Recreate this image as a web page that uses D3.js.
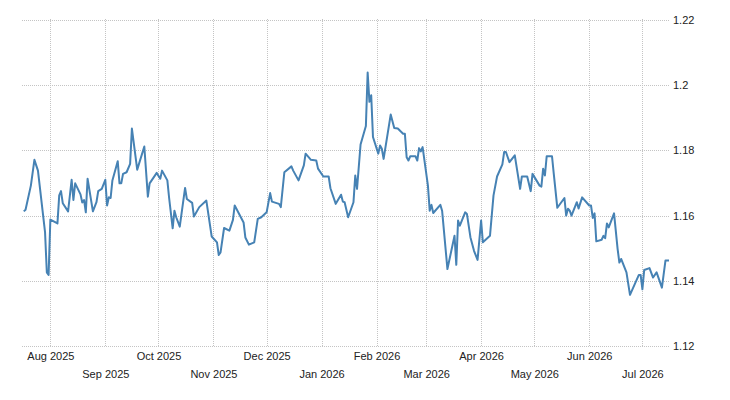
<!DOCTYPE html>
<html>
<head>
<meta charset="utf-8">
<script src="https://cdn.jsdelivr.net/npm/d3@7"></script>
<style>
  html, body { margin: 0; padding: 0; background: #fff; }
  svg { display: block; font-family: Arial, "Liberation Sans", sans-serif; }
  .grid line { stroke: #c4c4c4; stroke-width: 1; stroke-dasharray: 1,1; shape-rendering: crispEdges; }
  .grid path { display: none; }
  .axis text { fill: #222; font-size: 11px; }
  .axis path, .axis line { display: none; }
  .rate { fill: none; stroke: #4682b4; stroke-width: 2; stroke-linejoin: round; }
</style>
</head>
<body>
<div id="chart"></div>
<script>
// vertices of the line
const dates = [
  "2025-07-17","2025-07-18","2025-07-21","2025-07-23","2025-07-25","2025-07-29","2025-07-30","2025-07-31",
  "2025-08-01","2025-08-05","2025-08-06","2025-08-07","2025-08-08","2025-08-11","2025-08-13","2025-08-14",
  "2025-08-15","2025-08-18","2025-08-19","2025-08-20","2025-08-21","2025-08-22","2025-08-25","2025-08-27",
  "2025-08-28","2025-08-30","2025-09-01","2025-09-02","2025-09-03","2025-09-04","2025-09-05","2025-09-08",
  "2025-09-09","2025-09-10","2025-09-11","2025-09-13","2025-09-15","2025-09-16","2025-09-19","2025-09-23",
  "2025-09-25","2025-09-26","2025-09-30","2025-10-02","2025-10-03","2025-10-06","2025-10-07","2025-10-09",
  "2025-10-10","2025-10-11","2025-10-13","2025-10-16","2025-10-17","2025-10-20","2025-10-21","2025-10-24",
  "2025-10-28","2025-10-31","2025-11-03","2025-11-04","2025-11-05","2025-11-07","2025-11-10","2025-11-12",
  "2025-11-13","2025-11-18","2025-11-19","2025-11-21","2025-11-24","2025-11-26","2025-11-28","2025-12-01",
  "2025-12-03","2025-12-04","2025-12-08","2025-12-09","2025-12-11","2025-12-15","2025-12-16","2025-12-19",
  "2025-12-22","2025-12-23","2025-12-26","2025-12-29","2025-12-30","2026-01-02","2026-01-05","2026-01-06",
  "2026-01-09","2026-01-12","2026-01-13","2026-01-14","2026-01-16","2026-01-19","2026-01-20","2026-01-21",
  "2026-01-23","2026-01-26","2026-01-27","2026-01-28","2026-01-29","2026-01-30","2026-02-02","2026-02-03",
  "2026-02-04","2026-02-05","2026-02-09","2026-02-11","2026-02-13","2026-02-16","2026-02-17","2026-02-18",
  "2026-02-19","2026-02-20","2026-02-23","2026-02-24","2026-02-25","2026-02-26","2026-02-27","2026-03-02",
  "2026-03-03","2026-03-04","2026-03-05","2026-03-09","2026-03-10","2026-03-13","2026-03-17","2026-03-18",
  "2026-03-19","2026-03-20","2026-03-23","2026-03-24","2026-03-26","2026-03-28","2026-03-30","2026-04-01",
  "2026-04-02","2026-04-06","2026-04-08","2026-04-10","2026-04-13","2026-04-14","2026-04-15","2026-04-17",
  "2026-04-20","2026-04-23","2026-04-24","2026-04-27","2026-04-29","2026-04-30","2026-05-04","2026-05-05",
  "2026-05-06","2026-05-07","2026-05-08","2026-05-11","2026-05-12","2026-05-14","2026-05-18","2026-05-19",
  "2026-05-20","2026-05-21","2026-05-22","2026-05-25","2026-05-26","2026-05-28","2026-06-01","2026-06-02",
  "2026-06-03","2026-06-04","2026-06-05","2026-06-08","2026-06-09","2026-06-10","2026-06-11","2026-06-12",
  "2026-06-15","2026-06-17","2026-06-18","2026-06-19","2026-06-22","2026-06-24","2026-06-29","2026-06-30",
  "2026-07-01","2026-07-02","2026-07-05","2026-07-07","2026-07-09","2026-07-12","2026-07-14","2026-07-16"
];
const rates = [
  1.1613,1.1618,1.1692,1.1771,1.1738,1.1549,1.1426,1.1418,
  1.1588,1.1576,1.1662,1.1675,1.1638,1.1613,1.1710,1.1648,
  1.1699,1.1665,1.1640,1.1648,1.1610,1.1713,1.1613,1.1641,
  1.1675,1.1682,1.1710,1.1631,1.1656,1.1654,1.1708,1.1767,
  1.1699,1.1699,1.1728,1.1733,1.1759,1.1867,1.1741,1.1812,
  1.1658,1.1699,1.1731,1.1713,1.1738,1.1708,1.1654,1.1561,
  1.1615,1.1595,1.1566,1.1685,1.1651,1.1639,1.1597,1.1626,
  1.1646,1.1536,1.1518,1.1479,1.1487,1.1562,1.1554,1.1587,
  1.1631,1.1579,1.1533,1.1511,1.1518,1.1590,1.1595,1.1610,
  1.1669,1.1643,1.1636,1.1626,1.1733,1.1751,1.1738,1.1708,
  1.1754,1.1790,1.1771,1.1769,1.1744,1.1720,1.1720,1.1684,
  1.1636,1.1664,1.1643,1.1641,1.1595,1.1641,1.1723,1.1682,
  1.1818,1.1875,1.2039,1.1949,1.1969,1.1841,1.1790,1.1815,
  1.1805,1.1774,1.1910,1.1869,1.1867,1.1851,1.1851,1.1779,
  1.1769,1.1782,1.1782,1.1769,1.1807,1.1797,1.1810,1.1692,
  1.1615,1.1633,1.1608,1.1633,1.1615,1.1436,1.1538,1.1449,
  1.1585,1.1569,1.1610,1.1605,1.1533,1.1492,1.1464,1.1585,
  1.1518,1.1538,1.1662,1.1720,1.1757,1.1795,1.1795,1.1764,
  1.1785,1.1682,1.1720,1.1720,1.1675,1.1728,1.1692,1.1689,
  1.1744,1.1723,1.1782,1.1782,1.1728,1.1624,1.1654,1.1600,
  1.1621,1.1615,1.1600,1.1641,1.1622,1.1656,1.1631,1.1631,
  1.1593,1.1607,1.1521,1.1526,1.1538,1.1531,1.1576,1.1564,
  1.1607,1.1498,1.1456,1.1467,1.1426,1.1357,1.1418,1.1418,
  1.1374,1.1433,1.1439,1.1410,1.1426,1.1379,1.1462,1.1462
];
const xDomain = ["2025-07-16", "2026-07-16"];
const monthTicks = [
  "2025-08-01","2025-09-01","2025-10-01","2025-11-01","2025-12-01","2026-01-01",
  "2026-02-01","2026-03-01","2026-04-01","2026-05-01","2026-06-01","2026-07-01"
];
const yTicks = [1.12, 1.14, 1.16, 1.18, 1.2, 1.22];

const parse = d3.utcParse("%Y-%m-%d");
const data = dates.map((d, i) => ({ date: parse(d), value: rates[i] }));

const width = 730, height = 400;
const margin = { top: 20, right: 61, bottom: 54, left: 22 };

const x = d3.scaleUtc()
    .domain(xDomain.map(parse))
    .range([margin.left, width - margin.right]);
const y = d3.scaleLinear()
    .domain([1.12, 1.22])
    .range([height - margin.bottom, margin.top]);

const svg = d3.select("#chart").append("svg")
    .attr("width", width)
    .attr("height", height);

// grid
svg.append("g")
    .attr("class", "grid")
    .attr("transform", "translate(0," + (height - margin.bottom) + ")")
    .call(d3.axisBottom(x)
        .tickValues(monthTicks.map(parse))
        .tickFormat("")
        .tickSize(-(height - margin.bottom - margin.top) - 2)
        .tickSizeOuter(0));

svg.append("g")
    .attr("class", "grid")
    .attr("transform", "translate(" + (width - margin.right) + ",0)")
    .call(d3.axisLeft(y)
        .tickValues(yTicks)
        .tickFormat("")
        .tickSize(width - margin.right - margin.left)
        .tickSizeOuter(0));

// x axis labels, alternating rows
const xAxis = svg.append("g")
    .attr("class", "axis x")
    .attr("transform", "translate(0," + (height - margin.bottom) + ")")
    .call(d3.axisBottom(x)
        .tickValues(monthTicks.map(parse))
        .tickFormat(d3.utcFormat("%b %Y"))
        .tickSize(0)
        .tickPadding(6));
xAxis.selectAll("text")
    .attr("y", (d, i) => i % 2 === 0 ? 6 : 24);

// y axis labels on the right
svg.append("g")
    .attr("class", "axis y")
    .attr("transform", "translate(" + (width - margin.right) + ",0)")
    .call(d3.axisRight(y)
        .tickValues(yTicks)
        .tickFormat(d3.format(""))
        .tickSize(0)
        .tickPadding(4));

const line = d3.line()
    .x(d => x(d.date))
    .y(d => y(d.value));

svg.append("path")
    .datum(data)
    .attr("class", "rate")
    .attr("d", line);
</script>
</body>
</html>
